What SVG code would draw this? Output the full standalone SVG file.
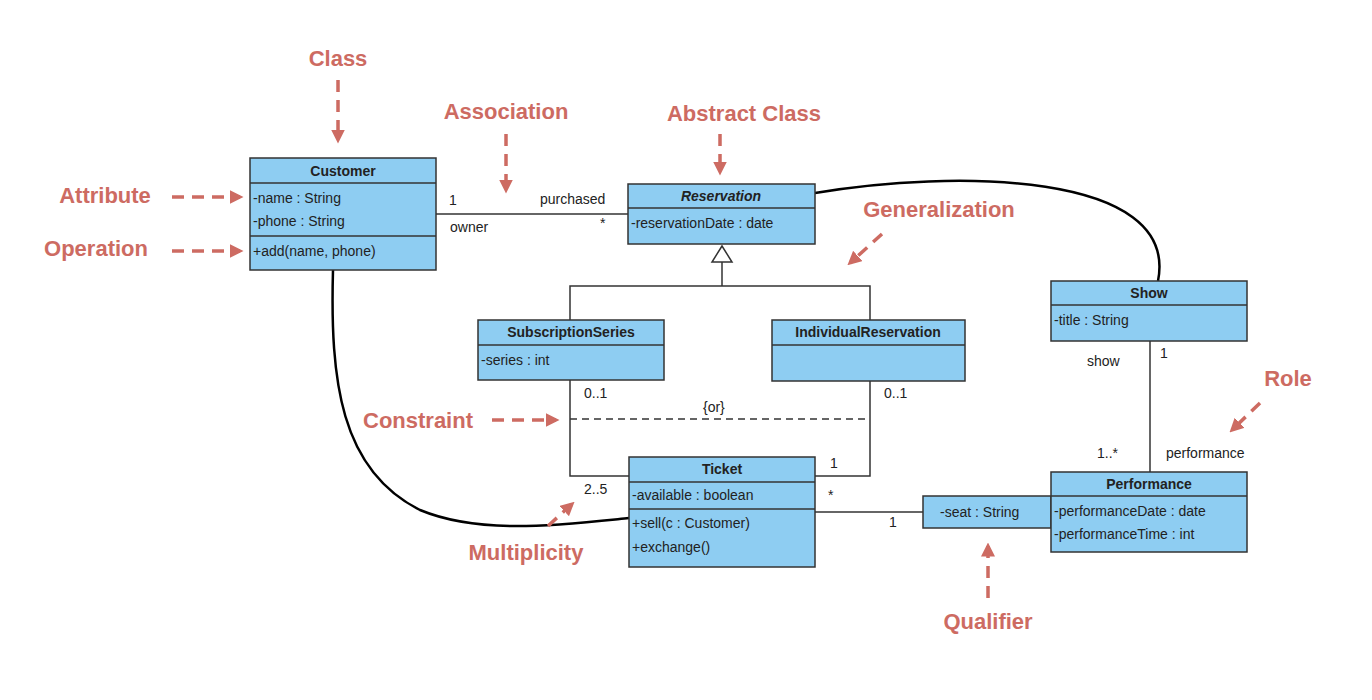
<svg xmlns="http://www.w3.org/2000/svg" width="1372" height="700" viewBox="0 0 1372 700">
<style>
.box{fill:#8ecdf2;stroke:#333;stroke-width:1.5}
.t{font-family:"Liberation Sans",Arial,sans-serif;font-size:14px;fill:#222}
.h{font-family:"Liberation Sans",Arial,sans-serif;font-size:14px;font-weight:bold;fill:#222;text-anchor:middle}
.ln{stroke:#333;stroke-width:1.5;fill:none}
.cv{stroke:#000;stroke-width:2.5;fill:none}
.an{font-family:"Liberation Sans",Arial,sans-serif;font-size:22px;font-weight:bold;fill:#cd6b62;text-anchor:middle}
.ad{stroke:#cd6b62;stroke-width:3.5;stroke-dasharray:12,8;fill:none}
</style>
<defs>
<marker id="ah" markerWidth="4" markerHeight="4" refX="3" refY="2" orient="auto"><path d="M0,0 L4,2 L0,4 z" fill="#cd6b62"/></marker>
</defs>
<rect width="1372" height="700" fill="#fff"/>
<g id="connectors">
<line class="ln" x1="436" y1="214" x2="628" y2="214"/>
<polyline class="ln" points="722,262 722,286"/>
<polygon points="722,246 712,262 732,262" fill="#fff" stroke="#333" stroke-width="1.5"/>
<polyline class="ln" points="570,320 570,286 870,286 870,320"/>
<polyline class="ln" points="570,380 570,476 629,476"/>
<polyline class="ln" points="870,381 870,476 815,476"/>
<line class="ln" x1="570" y1="419" x2="870" y2="419" stroke-dasharray="7,5"/>
<line class="ln" x1="815" y1="512" x2="923" y2="512"/>
<line class="ln" x1="1150" y1="341" x2="1150" y2="472"/>
<path class="cv" d="M815,193 C950,170 1180,170 1158,281"/>
<path class="cv" d="M333,270 C330,380 340,470 420,510 C480,535 560,525 629,518"/>
<text class="t" x="449" y="205">1</text>
<text class="t" x="450" y="232">owner</text>
<text class="t" x="540" y="204">purchased</text>
<text class="t" x="600" y="228">*</text>
<text class="t" x="584" y="398">0..1</text>
<text class="t" x="884" y="398">0..1</text>
<text class="t" x="703" y="412">{or}</text>
<text class="t" x="584" y="494">2..5</text>
<text class="t" x="830" y="468">1</text>
<text class="t" x="828" y="500">*</text>
<text class="t" x="889" y="527">1</text>
<text class="t" x="1087" y="366">show</text>
<text class="t" x="1160" y="358">1</text>
<text class="t" x="1097" y="458">1..*</text>
<text class="t" x="1166" y="458">performance</text>
</g>
<g id="customer">
<rect class="box" x="250" y="158" width="186" height="112"/>
<line class="ln" x1="250" y1="183" x2="436" y2="183"/>
<line class="ln" x1="250" y1="236" x2="436" y2="236"/>
<text class="h" x="343" y="176">Customer</text>
<text class="t" x="253" y="203">-name : String</text>
<text class="t" x="253" y="226">-phone : String</text>
<text class="t" x="253" y="256">+add(name, phone)</text>
</g>
<g id="reservation">
<rect class="box" x="628" y="184" width="187" height="60"/>
<line class="ln" x1="628" y1="208" x2="815" y2="208"/>
<text class="h" x="721" y="201" font-style="italic">Reservation</text>
<text class="t" x="631" y="228">-reservationDate : date</text>
</g>
<g id="subscription">
<rect class="box" x="478" y="320" width="186" height="60"/>
<line class="ln" x1="478" y1="345" x2="664" y2="345"/>
<text class="h" x="571" y="337">SubscriptionSeries</text>
<text class="t" x="481" y="365">-series : int</text>
</g>
<g id="individual">
<rect class="box" x="772" y="320" width="193" height="61"/>
<line class="ln" x1="772" y1="345" x2="965" y2="345"/>
<text class="h" x="868" y="337">IndividualReservation</text>
</g>
<g id="show">
<rect class="box" x="1051" y="281" width="196" height="60"/>
<line class="ln" x1="1051" y1="305" x2="1247" y2="305"/>
<text class="h" x="1149" y="298">Show</text>
<text class="t" x="1054" y="325">-title : String</text>
</g>
<g id="ticket">
<rect class="box" x="629" y="457" width="186" height="110"/>
<line class="ln" x1="629" y1="482" x2="815" y2="482"/>
<line class="ln" x1="629" y1="509" x2="815" y2="509"/>
<text class="h" x="722" y="474">Ticket</text>
<text class="t" x="632" y="500">-available : boolean</text>
<text class="t" x="632" y="528">+sell(c : Customer)</text>
<text class="t" x="632" y="552">+exchange()</text>
</g>
<g id="qualifier">
<rect class="box" x="923" y="496" width="128" height="32"/>
<text class="t" x="940" y="517">-seat : String</text>
</g>
<g id="performance">
<rect class="box" x="1051" y="472" width="196" height="80"/>
<line class="ln" x1="1051" y1="496" x2="1247" y2="496"/>
<text class="h" x="1149" y="489">Performance</text>
<text class="t" x="1054" y="516">-performanceDate : date</text>
<text class="t" x="1054" y="539">-performanceTime : int</text>
</g>
<g id="annotations">
<text class="an" x="338" y="66">Class</text>
<path class="ad" d="M338,80 L338,140" marker-end="url(#ah)"/>
<text class="an" x="506" y="119">Association</text>
<path class="ad" d="M506,134 L506,190" marker-end="url(#ah)"/>
<text class="an" x="744" y="121">Abstract Class</text>
<path class="ad" d="M720,134 L720,172" marker-end="url(#ah)"/>
<text class="an" x="105" y="203">Attribute</text>
<path class="ad" d="M172,197 L240,197" marker-end="url(#ah)"/>
<text class="an" x="96" y="256">Operation</text>
<path class="ad" d="M172,251 L240,251" marker-end="url(#ah)"/>
<text class="an" x="939" y="217">Generalization</text>
<path class="ad" d="M882,234 L850,263" marker-end="url(#ah)"/>
<text class="an" x="418" y="428">Constraint</text>
<path class="ad" d="M492,420 L556,420" marker-end="url(#ah)"/>
<text class="an" x="1288" y="386">Role</text>
<path class="ad" d="M1260,403 L1232,430" marker-end="url(#ah)"/>
<text class="an" x="526" y="560">Multiplicity</text>
<path class="ad" d="M548,526 L572,504" marker-end="url(#ah)"/>
<text class="an" x="988" y="629">Qualifier</text>
<path class="ad" d="M988,598 L988,546" marker-end="url(#ah)"/>
</g>
</svg>
